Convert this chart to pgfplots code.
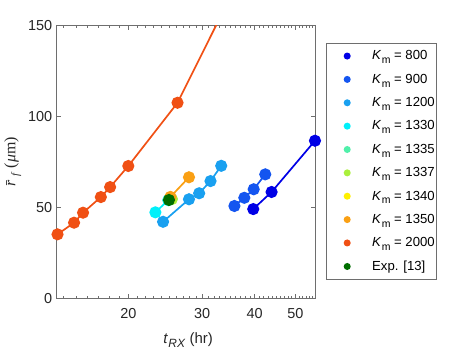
\documentclass[border=0pt]{standalone}
\usepackage[no-math]{fontspec}
\setmainfont{Liberation Sans}
\newfontfamily\serifff{Liberation Serif}
\usepackage{pgfplots}
\pgfplotsset{compat=1.18}
\definecolor{c800}{RGB}{0,0,230}
\definecolor{c900}{RGB}{20,85,240}
\definecolor{c1200}{RGB}{25,160,240}
\definecolor{c1330}{RGB}{0,240,250}
\definecolor{c1335}{RGB}{80,240,170}
\definecolor{c1337}{RGB}{170,240,60}
\definecolor{c1340}{RGB}{255,240,0}
\definecolor{c1350}{RGB}{250,160,20}
\definecolor{c2000}{RGB}{240,80,20}
\definecolor{cexp}{RGB}{0,110,0}
\definecolor{axgray}{RGB}{110,110,110}
\newcommand{\Km}[1]{\textit{K}\kern0.3pt\raisebox{-0.55ex}{\fontsize{10.5}{10.5}\selectfont m} = #1}
\begin{document}
\begin{tikzpicture}
\path[use as bounding box] (0bp,0bp) rectangle (474bp,355bp);
\begin{axis}[
  at={(56.7bp,56.7bp)}, anchor=south west,
  scale only axis, width=258.6bp, height=272.6bp,
  xmode=log, xmin=13.5, xmax=55.8, ymin=0, ymax=150,
  xtick={20,30,40,50}, xticklabels={20,30,40,50},
  minor xtick={14,15,16,17,18,19,21,22,23,24,25,26,27,28,29,31,32,33,34,35,36,37,38,39,41,42,43,44,45,46,47,48,49,51,52,53,54,55},
  ytick={0,50,100,150},
  tick align=inside, major tick length=4bp, minor tick length=2.5bp,
  axis line style={axgray, line width=0.8bp},
  every tick/.style={axgray, line width=0.6bp},
  /pgf/number format/assume math mode=true,
  tick label style={font=\fontsize{14.5}{16}\selectfont, text=black!85},
  xticklabel style={yshift=-7bp},
  yticklabel style={xshift=-1bp},
  clip mode=individual,
  xlabel={\textit{t}\kern0.5pt\raisebox{-0.6ex}{\fontsize{12}{12}\selectfont\textit{RX}}\ (hr)},
  every axis x label/.style={at={(axis description cs:0.508,-0.153)}, anchor=center, font=\fontsize{15}{17}\selectfont, text=black!85},
  ylabel={\serifff\textit{\={r}}\kern0.3pt\raisebox{-0.5ex}{\fontsize{11}{11}\selectfont\textit{f}}\ (\textit{μ}m)},
  every axis y label/.style={at={(axis description cs:-0.17,0.5)}, rotate=90, anchor=center, font=\fontsize{16}{18}\selectfont, text=black!85},
  every axis plot/.append style={line width=1.7bp, mark=*, mark size=5.2bp},
  legend image code/.code={\path[draw=none] (0bp,0bp) -- (44bp,0bp); \path[#1, draw=none, mark size=2.6bp] plot coordinates {(21bp,0bp)};},
  legend style={at={(1.041,0.935)}, anchor=north west, draw=axgray, line width=0.6bp,
    font=\fontsize{13.2}{15}\selectfont, row sep=8.7bp, inner xsep=0bp, inner ysep=5bp,
    cells={anchor=west}},
  legend cell align=left,
]
\addplot[c800, mark options={fill=c800, draw=c800}] coordinates {(39.7,49.1) (43.9,58.5) (55.7,86.7)};
\addlegendentry{\Km{800}}
\addplot[c900, mark options={fill=c900, draw=c900}] coordinates {(35.8,50.8) (37.8,55.3) (39.8,60.0) (42.4,68.2)};
\addlegendentry{\Km{900}}
\addplot[c1200, mark options={fill=c1200, draw=c1200}] coordinates {(24.2,42.1) (27.9,54.5) (29.5,57.8) (31.4,64.5) (33.3,72.9)};
\addlegendentry{\Km{1200}}
\addplot[c1330, mark options={fill=c1330, draw=c1330}] coordinates {(23.2,47.3) (24.9,54.0)};
\addlegendentry{\Km{1330}}
\addplot[c1335, mark options={fill=c1335, draw=c1335}] coordinates {(25.0,54.2)};
\addlegendentry{\Km{1335}}
\addplot[c1337, mark options={fill=c1337, draw=c1337}] coordinates {(25.4,54.6)};
\addlegendentry{\Km{1337}}
\addplot[c1340, mark options={fill=c1340, draw=c1340}] coordinates {(25.1,54.8)};
\addlegendentry{\Km{1340}}
\addplot[c1350, mark options={fill=c1350, draw=c1350}] coordinates {(25.2,55.8) (27.9,66.6)};
\addlegendentry{\Km{1350}}
\addplot[c2000, mark options={fill=c2000, draw=c2000}] coordinates {(13.56,35.2) (14.85,41.6) (15.6,47.1) (17.2,55.7) (18.1,61.2) (20.0,72.8) (26.2,107.6)};
\addlegendentry{\Km{2000}}
\addplot[cexp, mark options={fill=cexp, draw=cexp}] coordinates {(25.0,54.1)};
\addlegendentry{Exp. [13]}
\addplot[c2000, line width=1.7bp, no marks, forget plot] coordinates {(26.2,107.6) (36,171.5)};
\end{axis}
\end{tikzpicture}
\end{document}
